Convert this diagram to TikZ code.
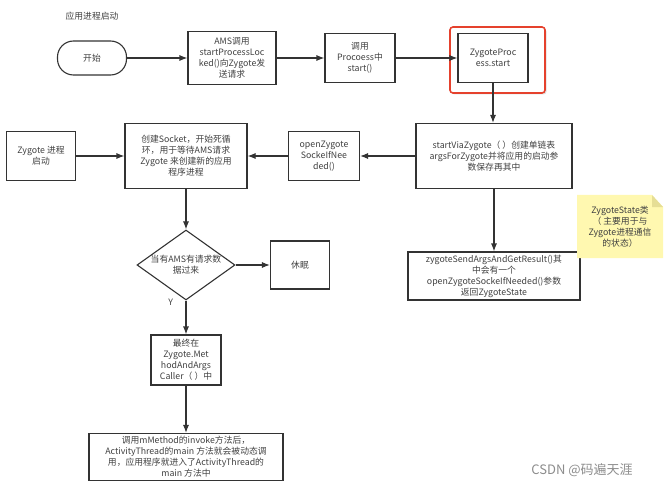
\documentclass[tikz,border=0pt]{standalone}
\usepackage{fontspec}
\setmainfont{Noto Sans CJK SC}
\usetikzlibrary{shapes.geometric,arrows.meta,shadows}
\definecolor{linegray}{HTML}{333333}
\definecolor{textgray}{HTML}{404040}
\definecolor{markred}{HTML}{E5412D}
\definecolor{noteyellow}{HTML}{FFF8B0}
\definecolor{notefold}{HTML}{E6DE95}
\definecolor{markgray}{HTML}{8C8C8C}

\begin{document}
\begin{tikzpicture}[x=1pt, y=-1pt, font=\fontsize{8.8}{11}\selectfont, text=textgray,
    box/.style={rectangle, draw=linegray, line width=1.1pt, align=center, inner sep=0pt},
    flow/.style={draw=linegray, line width=1.1pt, -{Latex[length=8pt,width=6pt]}}]
    \useasboundingbox (0,0) rectangle (667,492);

    \node (title) at (92,16) {应用进程启动};
    \node[box, rounded corners=16pt, minimum width=69pt, minimum height=34pt] (begin) at (92,58) {开始};
    \node[box, minimum width=88pt, minimum height=53pt] (ams) at (232,58) {AMS调用\\startProcessLoc\\ked()向Zygote发\\送请求};
    \node[box, minimum width=70pt, minimum height=49pt] (proc) at (360,58) {调用\\Procoess中\\start()};
    \node[draw=markred, fill=white, line width=1.6pt, rounded corners=3pt, minimum width=95pt, minimum height=66pt,
        drop shadow={opacity=.25, shadow xshift=1.5pt, shadow yshift=-1.5pt}] (mark) at (497.5,60) {};
    \node[box, minimum width=70pt, minimum height=49pt] (zygote) at (493,58) {ZygoteProc\\ess.start};

    \node[box, minimum width=156pt, minimum height=65pt] (startvia) at (494,156) {startViaZygote（ ）创建单链表\\argsForZygote并将应用的启动参\\数保存再其中};
    \node[box, minimum width=71pt, minimum height=49pt] (openzyg) at (324,156) {openZygote\\SockeIfNee\\ded()};
    \node[box, minimum width=122pt, minimum height=65pt] (socket) at (186,156) {创建Socket，开始死循\\环，用于等待AMS请求\\Zygote 来创建新的应用\\程序进程};
    \node[box, minimum width=69pt, minimum height=49pt] (zstart) at (41,156) {Zygote 进程\\启动};

    \node[diamond, draw=linegray, line width=1.1pt, inner sep=0pt, aspect=1.4, minimum width=98pt, minimum height=70pt,
        label={[align=center]center:当有AMS有请求数\\据过来}] (decide) at (186,265) {};
    \node[box, minimum width=59pt, minimum height=48pt] (sleep) at (300,265) {休眠};
    \node[box, minimum width=70pt, minimum height=50pt] (final) at (186,360) {最终在\\Zygote.Met\\hodAndArgs\\Caller（ ）中};
    \node[box, minimum width=194pt, minimum height=47pt] (invoke) at (186,457) {调用mMethod的invoke方法后，\\ActivityThread的main 方法就会被动态调\\用，应用程序就进入了ActivityThread的\\main 方法中};

    \node[box, minimum width=172pt, minimum height=48pt] (send) at (494,276) {zygoteSendArgsAndGetResult()其\\中会有一个\\openZygoteSockeIfNeeded()参数\\返回ZygoteState};
    \fill[noteyellow] (577,195) -- (652,195) -- (663,207) -- (663,258) -- (577,258) -- cycle;
    \fill[notefold] (652,195) -- (652,207) -- (663,207) -- cycle;
    \node[align=center] (note) at (620,227) {ZygoteState类\\（ 主要用于与\\Zygote进程通信\\的状态）};

    \draw[flow] (begin) -- (ams);
    \draw[flow] (ams) -- (proc);
    \draw[flow] (proc) -- (zygote);
    \draw[flow] (zygote.south) -- (zygote.south |- startvia.north);
    \draw[flow] (startvia) -- (openzyg);
    \draw[flow] (openzyg) -- (socket);
    \draw[flow] (zstart) -- (socket);
    \draw[flow] (socket) -- (decide);
    \draw[flow] (decide) -- (sleep);
    \draw[flow] (decide) -- node[pos=.06, left=9pt] {Y} (final);
    \draw[flow] (final) -- (invoke);
    \draw[flow] (startvia) -- (send);

    \node[text=markgray, font=\fontsize{13}{15}\selectfont] (csdn) at (582,470) {CSDN @码遍天涯};
\end{tikzpicture}
\end{document}
